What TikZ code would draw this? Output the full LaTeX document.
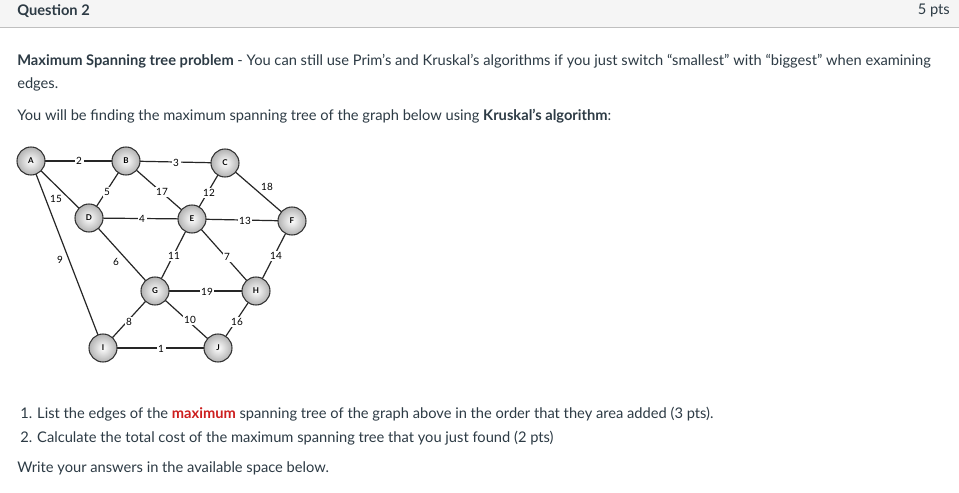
\documentclass[tikz,border=0pt]{standalone}
\usepackage{fontspec}
\setmainfont{Lato}
\definecolor{hdr}{RGB}{245,245,245}
\definecolor{txt}{RGB}{45,59,69}
\definecolor{redw}{RGB}{205,30,30}
\begin{document}
\begin{tikzpicture}[x=0.75pt,y=-0.75pt,
  vert/.style={circle,draw=black!80,line width=0.8pt,inner sep=0pt,minimum size=21pt,shade,inner color=white,outer color=black!30,font=\fontsize{6}{7}\selectfont\bfseries},
  wt/.style={fill=white,inner sep=1.2pt,font=\fontsize{7.5}{8}\selectfont},
  edge/.style={line width=0.9pt,black!85},
  body/.style={anchor=west,inner sep=0pt,text=txt,font=\fontsize{11}{13}\selectfont}]
\useasboundingbox (0,0) rectangle (959,492);
\fill[white] (0,0) rectangle (959,492);
\fill[hdr] (0,0) rectangle (959,27);
\draw[black!25] (0,27.5) -- (959,27.5);
\node[body,font=\fontsize{11}{13}\selectfont\bfseries] (q) at (17,11) {Question 2};
\node[anchor=east,inner sep=0pt,text=txt,font=\fontsize{11}{13}\selectfont] (p) at (950,11) {5 pts};
\node[body] (l1) at (17,61) {\textbf{Maximum Spanning tree problem} - You can still use Prim's and Kruskal's algorithms if you just switch ``smallest'' with ``biggest'' when examining};
\node[body] (l2) at (17,84) {edges.};
\node[body] (l3) at (17,116) {You will be finding the maximum spanning tree of the graph below using \textbf{Kruskal's algorithm}:};
\node[body] (l4) at (20,414) {1. List the edges of the \textcolor{redw}{\textbf{maximum}} spanning tree of the graph above in the order that they area added (3 pts).};
\node[body] (l5) at (20,438) {2. Calculate the total cost of the maximum spanning tree that you just found (2 pts)};
\node[body] (l6) at (17,468) {Write your answers in the available space below.};

\coordinate (A) at (31,161);
\coordinate (B) at (126,161);
\coordinate (C) at (225,163);
\coordinate (D) at (89,218);
\coordinate (E) at (192,219);
\coordinate (F) at (292,221);
\coordinate (G) at (155,291);
\coordinate (H) at (256,291);
\coordinate (I) at (103,348);
\coordinate (J) at (218,348);
\foreach \u/\v in {A/B,B/C,B/D,B/E,C/E,C/F,A/D,D/E,E/F,A/I,D/G,E/G,E/H,F/H,G/H,G/I,G/J,H/J,I/J}
  \draw[edge] (\u) -- (\v);
\foreach \n in {A,B,C,D,E,F,G,H,I,J}
  \node[vert] (v\n) at (\n) {\n};
\foreach \t/\x/\y in {2/79/161,3/176/163,5/107/192,17/162/192,12/209/193,18/267/187,15/56/199,4/142/219,13/245/221,9/60/260,6/116/262,11/174/256,7/227/257,14/276/256,19/207/292,8/129/322,10/190/320,16/237/322,1/161/349}
  \node[wt] (w\t) at (\x,\y) {\t};
\end{tikzpicture}
\end{document}
